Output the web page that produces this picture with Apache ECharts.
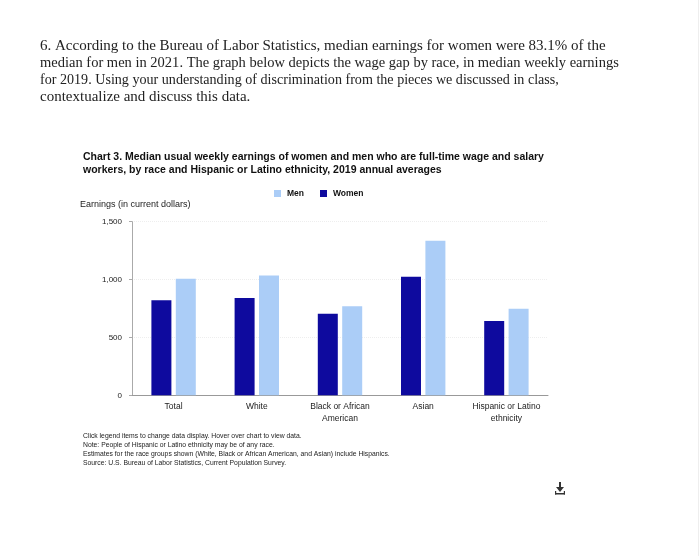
<!DOCTYPE html>
<html><head><meta charset="utf-8">
<script src="https://cdn.jsdelivr.net/npm/echarts@6/dist/echarts.min.js"></script>
<style>html,body{margin:0;padding:0;background:#fff}#c{width:700px;height:556px}</style>
</head><body><div id="c"></div>
<script>
var categories = ['Total', 'White', 'Black or African\nAmerican', 'Asian', 'Hispanic or Latino\nethnicity'];
var women = [821, 840, 704, 1025, 642];
var men = [1007, 1036, 769, 1336, 747];
var yTicks = [0, 500, 1000, 1500];

var question = [
  '6. According to the Bureau of Labor Statistics, median earnings for women were 83.1% of the',
  'median for men in 2021. The graph below depicts the wage gap by race, in median weekly earnings',
  'for 2019. Using your understanding of discrimination from the pieces we discussed in class,',
  'contextualize and discuss this data.'
];
var chartTitle = [
  'Chart 3. Median usual weekly earnings of women and men who are full-time wage and salary',
  'workers, by race and Hispanic or Latino ethnicity, 2019 annual averages'
];
var notes = [
  'Click legend items to change data display. Hover over chart to view data.',
  'Note: People of Hispanic or Latino ethnicity may be of any race.',
  'Estimates for the race groups shown (White, Black or African American, and Asian) include Hispanics.',
  'Source: U.S. Bureau of Labor Statistics, Current Population Survey.'
];

var lineScale = [1, 0.967, 0.94, 1];
var graphics = [];
question.forEach(function (t, i) {
  graphics.push({type: 'text', x: 40, y: 39 + i * 16.7, scaleX: lineScale[i], style: {text: t, fontFamily: 'Liberation Serif', fontSize: 15, fill: '#222'}});
});
chartTitle.forEach(function (t, i) {
  graphics.push({type: 'text', left: 83, top: 151.5 + i * 13, style: {text: t, fontFamily: 'Liberation Sans', fontWeight: 'bold', fontSize: 10.5, fill: '#111'}});
});
graphics.push({type: 'text', left: 80, top: 200, style: {text: 'Earnings (in current dollars)', fontFamily: 'Liberation Sans', fontSize: 9, fill: '#222'}});
notes.forEach(function (t, i) {
  graphics.push({type: 'text', left: 83, top: 433 + i * 8.8, style: {text: t, fontFamily: 'Liberation Sans', fontSize: 6.8, fill: '#222'}});
});
// download icon
graphics.push({type: 'group', left: 555, top: 482, children: [
  {type: 'rect', shape: {x: 4, y: 0, width: 2, height: 6}, style: {fill: '#333'}},
  {type: 'polygon', shape: {points: [[1, 5], [9, 5], [5, 10]]}, style: {fill: '#333'}},
  {type: 'rect', shape: {x: 0, y: 11, width: 10, height: 1.5}, style: {fill: '#333'}},
  {type: 'rect', shape: {x: 0, y: 9, width: 1.2, height: 3.5}, style: {fill: '#333'}},
  {type: 'rect', shape: {x: 8.8, y: 9, width: 1.2, height: 3.5}, style: {fill: '#333'}}
]});
graphics.push({type: 'line', shape: {x1: 698.5, y1: 0, x2: 698.5, y2: 556}, style: {stroke: '#eee', lineWidth: 1}});

var chart = echarts.init(document.getElementById('c'), null, {renderer: 'canvas'});
chart.setOption({
  animation: false,
  backgroundColor: '#fff',
  graphic: graphics,
  legend: {
    data: ['Men', 'Women'],
    top: 184, left: 269,
    itemWidth: 7, itemHeight: 7, itemGap: 16,
    icon: 'rect',
    textStyle: {fontFamily: 'Liberation Sans', fontWeight: 'bold', fontSize: 8.5, color: '#111', padding: [0, 0, 0, 1]}
  },
  grid: {left: 132, right: 152, top: 221.7, bottom: 160.7, containLabel: false},
  xAxis: {
    type: 'category', data: categories,
    axisLine: {lineStyle: {color: '#999'}},
    axisTick: {show: false},
    axisLabel: {fontFamily: 'Liberation Sans', fontSize: 8.5, color: '#222', margin: 6, lineHeight: 11.5, interval: 0}
  },
  yAxis: {
    type: 'value', min: 0, max: 1500, interval: 500,
    axisLine: {show: true, lineStyle: {color: '#aaa'}},
    axisTick: {show: true, length: 3, lineStyle: {color: '#aaa'}},
    splitLine: {lineStyle: {color: '#eee', type: 'dotted'}},
    axisLabel: {fontFamily: 'Liberation Sans', fontSize: 8, color: '#222', margin: 10,
      formatter: function (v) { return yTicks.indexOf(v) >= 0 ? v.toLocaleString('en-US') : ''; }}
  },
  series: [
    {name: 'Women', type: 'bar', data: women, barWidth: 20, barGap: '22%', itemStyle: {color: '#0e0a9e'}},
    {name: 'Men', type: 'bar', data: men, barWidth: 20, itemStyle: {color: '#abcdf7'}}
  ]
});
</script></body></html>
